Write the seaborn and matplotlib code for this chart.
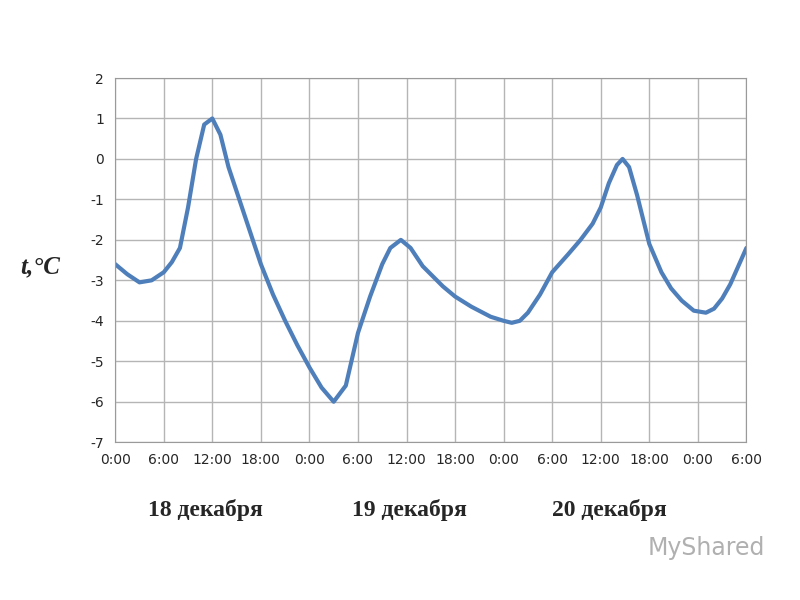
import matplotlib
matplotlib.use("Agg")
import matplotlib.pyplot as plt
import seaborn as sns
import pandas as pd

# hours since 18 Dec 0:00, temperature in °C
hours = [0, 1.5, 3, 4.5, 6, 7, 8, 9, 10, 11, 12, 13, 14, 15.5, 17, 18, 19.5, 21, 22.5, 24,
         25.5, 27, 28.5, 30, 31.5, 33, 34, 35.3, 36.5, 38, 39, 40.5, 42, 44, 46.4, 48, 49,
         50, 51, 52.5, 54, 56, 57.5, 59, 60, 61, 62, 62.7, 63.5, 64.5, 66, 67.5, 68.7, 70,
         71.5, 73, 74, 75, 76, 77, 78]
temps = [-2.6, -2.85, -3.05, -3.0, -2.8, -2.55, -2.2, -1.2, 0.0, 0.85, 1.0, 0.6, -0.2, -1.1,
         -2.0, -2.6, -3.35, -4.0, -4.6, -5.15, -5.65, -6.0, -5.6, -4.3, -3.4, -2.6, -2.2,
         -2.0, -2.2, -2.65, -2.85, -3.15, -3.4, -3.65, -3.9, -4.0, -4.05, -4.0, -3.8, -3.35,
         -2.8, -2.35, -2.0, -1.6, -1.2, -0.6, -0.15, 0.0, -0.2, -0.9, -2.1, -2.8, -3.2,
         -3.5, -3.75, -3.8, -3.7, -3.45, -3.1, -2.65, -2.2]
tick_labels = ["0:00", "6:00", "12:00", "18:00"] * 3 + ["0:00", "6:00"]
days = ["18 декабря", "19 декабря", "20 декабря"]

df = pd.DataFrame({"h": hours, "t": temps})

sns.set_style("white")
plt.rcParams["axes.unicode_minus"] = False
fig = plt.figure(figsize=(8, 6), dpi=100)
ax = fig.add_axes([0.144, 0.263, 0.789, 0.607])

sns.lineplot(data=df, x="h", y="t", ax=ax, color="#4f7fba", linewidth=3,
             solid_joinstyle="round", solid_capstyle="round")

ax.set_xlim(0, 78)
ax.set_ylim(-7, 2)
ax.set_xticks(range(0, 79, 6))
ax.set_xticklabels(tick_labels, fontsize=10)
ax.set_yticks(range(-7, 3))
ax.tick_params(length=0, labelsize=10, pad=8)
ax.grid(True, color="#b5b5b5", linewidth=1)
for s in ax.spines.values():
    s.set_color("#9a9a9a")
ax.set_xlabel("")
ax.set_ylabel("")

fig.text(0.025, 0.545, "t,°C", fontsize=18, fontweight="bold", fontstyle="italic",
         family="Liberation Serif")
for x, d in zip([0.257, 0.512, 0.762], days):
    fig.text(x, 0.14, d, fontsize=17, fontweight="bold", family="Liberation Serif",
             ha="center")
fig.text(0.81, 0.075, "MyShared", fontsize=17, color="#b0b0b0")

fig.savefig("out.png", dpi=100)
